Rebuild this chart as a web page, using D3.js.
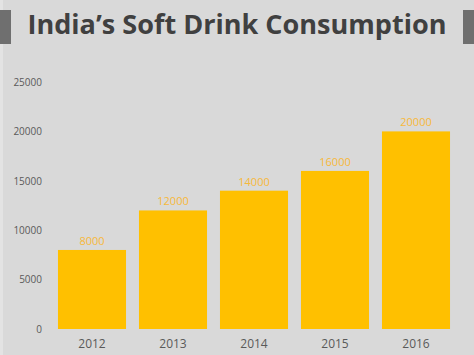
<!DOCTYPE html>
<html><head><meta charset="utf-8">
<script src="https://cdn.jsdelivr.net/npm/d3@7"></script>
<style>html,body{margin:0;padding:0;background:#d9d9d9;}svg{display:block;}</style>
</head><body>
<script>
const categories = ["2012","2013","2014","2015","2016"];
const values = [8000,12000,14000,16000,20000];
const yTicks = [0,5000,10000,15000,20000,25000];
const title = "India\u2019s Soft Drink Consumption";

const W = 474, H = 355;
const svg = d3.select("body").append("svg").attr("width", W).attr("height", H);
svg.append("rect").attr("width", W).attr("height", H).attr("fill", "#d9d9d9");
svg.append("rect").attr("x",0).attr("y",0).attr("width",3).attr("height",H).attr("fill","#e3e3e3");

// title bars
svg.append("rect").attr("x",0).attr("y",10).attr("width",11).attr("height",34).attr("fill","#6f6f6f");
svg.append("rect").attr("x",463).attr("y",10).attr("width",11).attr("height",34).attr("fill","#6f6f6f");
svg.append("text").attr("x",237).attr("y",34).attr("text-anchor","middle")
  .attr("font-family","'Open Sans', 'DejaVu Sans', sans-serif").attr("font-weight","bold")
  .attr("font-size",26).attr("fill","#404040")
  .attr("textLength",419).attr("lengthAdjust","spacingAndGlyphs")
  .text(title);

const x = d3.scaleBand().domain(categories).range([51.5,456.5]).paddingInner(0.16).paddingOuter(0.08);
const y = d3.scaleLinear().domain([0,25000]).range([329,82]);

const yAxis = svg.append("g").attr("transform","translate(42,0)")
  .call(d3.axisLeft(y).tickValues(yTicks).tickSize(0).tickPadding(0).tickFormat(d3.format("d")));
yAxis.select(".domain").remove();
yAxis.selectAll("text").attr("fill","#595959").attr("font-size",10)
  .attr("font-family","'Open Sans', 'DejaVu Sans', sans-serif");

svg.selectAll("rect.bar").data(values).enter().append("rect").attr("class","bar")
  .attr("x",(d,i)=>x(categories[i])).attr("width",x.bandwidth())
  .attr("y",d=>y(d)).attr("height",d=>y(0)-y(d)).attr("fill","#ffc000");

svg.selectAll("text.val").data(values).enter().append("text").attr("class","val")
  .attr("x",(d,i)=>x(categories[i])+x.bandwidth()/2).attr("y",d=>y(d)-5)
  .attr("text-anchor","middle").attr("font-size",11).attr("fill","#f7b83a")
  .attr("font-family","'Open Sans', 'DejaVu Sans', sans-serif").text(d=>d);

const xAxis = svg.append("g").attr("transform","translate(0,336)")
  .call(d3.axisBottom(x).tickSize(0).tickPadding(3));
xAxis.select(".domain").remove();
xAxis.selectAll("text").attr("fill","#595959").attr("font-size",12)
  .attr("font-family","'Open Sans', 'DejaVu Sans', sans-serif");
</script>
</body></html>
